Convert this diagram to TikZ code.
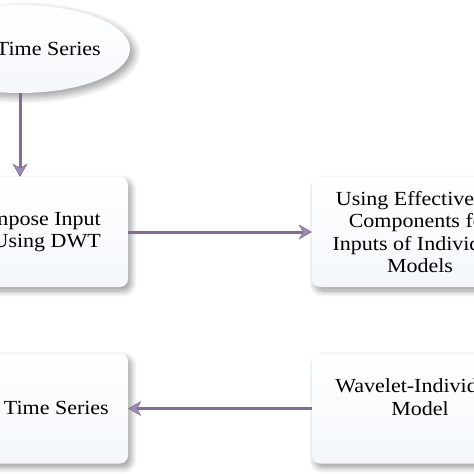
\documentclass[tikz,border=0pt]{standalone}
\usepackage{fontspec}
\setmainfont{Liberation Serif}[FakeStretch=1.1]
\usetikzlibrary{arrows.meta,shapes.geometric,shadows.blur}
\definecolor{arrline}{HTML}{7E6E92}
\definecolor{arrfill}{HTML}{9E8AB8}
\definecolor{boxfill}{HTML}{F4F7FB}
\tikzset{
  stepbox/.style={rectangle, rounded corners=8pt, minimum width=216pt, minimum height=110pt,
    inner sep=0pt, top color=white, bottom color=boxfill, draw=none,
    blur shadow={shadow xshift=3pt, shadow yshift=-4pt, shadow blur steps=10, shadow blur radius=6pt, shadow opacity=40}},
  startell/.style={ellipse, minimum width=220pt, minimum height=88pt, inner sep=0pt,
    top color=white, bottom color=boxfill, draw=none,
    blur shadow={shadow xshift=4pt, shadow yshift=-4pt, shadow blur steps=10, shadow blur radius=7pt, shadow opacity=40}},
  lbl/.style={font=\fontsize{20}{22.5}\selectfont, inner sep=0pt, text=black},
  arr/.style={draw=arrline, line width=3pt,
    -{Stealth[length=13pt, width=15pt, inset=4pt, fill=arrfill, line width=0.6pt]}},
}
\begin{document}
\begin{tikzpicture}[x=1pt,y=-1pt]
\useasboundingbox (0,0) rectangle (474,474);
\clip (0,0) rectangle (474,474);
\node[startell] (src) at (20,49) {};
\node[lbl, anchor=east] (srct) at (101,49) {Time Series};
\node[stepbox] (dec) at (20,232) {};
\node[lbl, anchor=east, align=right] (dect) at (101,232) {Decompose Input\\Using DWT};
\node[stepbox] (eff) at (420,232) {};
\node[lbl, align=center] (efft) at (420,232) {Using Effective\kern30pt\\Components for\\Inputs of Individual\\Models};
\node[stepbox] (out) at (20,408.5) {};
\node[lbl, anchor=east] (outt) at (109,408) {Time Series};
\node[stepbox] (wim) at (420,408.5) {};
\node[lbl, align=center] (wimt) at (420,397) {Wavelet-Individual\\Model};
\draw[arr] (src.south) -- (dec.north);
\draw[arr] (dec.east) -- (eff.west);
\draw[arr] (wim.west) -- (out.east);
\end{tikzpicture}
\end{document}
